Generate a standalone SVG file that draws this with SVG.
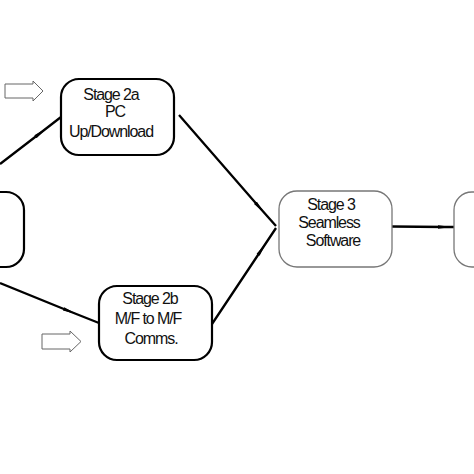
<svg xmlns="http://www.w3.org/2000/svg" width="474" height="474" viewBox="0 0 474 474">
<style>
.bk{fill:#fff;stroke:#000;stroke-width:2.2}
.gr{fill:#fff;stroke:#777;stroke-width:1.3}
.ha{fill:#fff;stroke:#666;stroke-width:1}
text{font-family:"Liberation Sans",Arial,sans-serif;font-size:16px;text-anchor:middle;fill:#111;letter-spacing:-1.1px}
.ln{stroke:#000;stroke-width:2.3;fill:none}
</style>
<defs>
<marker id="ah" viewBox="0 0 14 6" refX="7" refY="3" markerWidth="14" markerHeight="6" markerUnits="userSpaceOnUse" orient="auto">
<path d="M0,1.2 L14,3 L0,4.8 Z" fill="#000"/>
</marker>
</defs>
<rect width="474" height="474" fill="#fff"/>
<g id="hollow-arrow-top"><path class="ha" d="M5,84 H33 V81 L43,91 L33,101 V98 H5 Z"/></g>
<g id="hollow-arrow-bottom"><path class="ha" d="M42,334 H70 V331 L81,341.5 L70,352 V349 H42 Z"/></g>
<g id="connectors">
<polyline class="ln" points="0,164 41,132.5 61,117" marker-mid="url(#ah)"/>
<polyline class="ln" points="0,283 70,311.5 99,323" marker-mid="url(#ah)"/>
<polyline class="ln" points="179,115 260,208 276,226" marker-mid="url(#ah)"/>
<polyline class="ln" points="212,324 262,249 276,228" marker-mid="url(#ah)"/>
<polyline class="ln" points="392,226.5 445,227 454,227" marker-mid="url(#ah)"/>
</g>
<g id="stage1"><rect class="bk" x="-90" y="192" width="114" height="75" rx="18"/></g>
<g id="stage2a"><rect class="bk" x="61" y="79" width="113" height="76" rx="18"/>
<text x="111" y="100">Stage 2a</text><text x="115" y="117">PC</text><text x="111" y="137">Up/Download</text></g>
<g id="stage2b"><rect class="bk" x="99" y="286" width="113" height="74" rx="18"/>
<text x="150" y="304">Stage 2b</text><text x="148" y="324">M/F to M/F</text><text x="151" y="344">Comms.</text></g>
<g id="stage3"><rect class="gr" x="279" y="191" width="113" height="76" rx="18"/>
<text x="331" y="210">Stage 3</text><text x="329" y="228">Seamless</text><text x="333" y="246">Software</text></g>
<g id="stage4"><rect class="gr" x="454" y="192" width="113" height="75" rx="18"/></g>
</svg>
